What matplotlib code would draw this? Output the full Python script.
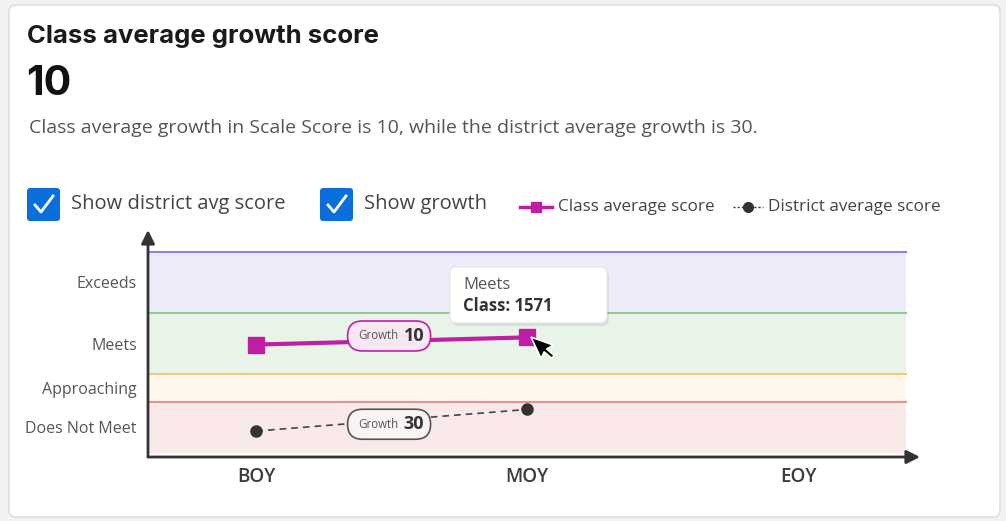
import numpy as np
import matplotlib.pyplot as plt
from matplotlib.patches import FancyBboxPatch, Rectangle, Polygon
from matplotlib.lines import Line2D
from matplotlib.transforms import ScaledTranslation

plt.rcParams['font.family'] = ['Open Sans', 'DejaVu Sans']

# datos
periods = ['BOY', 'MOY', 'EOY']
class_scores = [1561, 1571]
district_scores = [1441, 1471]
class_growth = 10
district_growth = 30
band_names = ['Does Not Meet', 'Approaching', 'Meets', 'Exceeds']
band_edges = [1410, 1482, 1520, 1605, 1690]
band_fill = ['#f9e9e9', '#fff7ec', '#e9f4e9', '#eeecfb']
band_line = ['#e89090', '#f5c97b', '#8fcd8f', '#8c83f0']
tooltip_level = 'Meets'

W, H = 1006, 521
fig = plt.figure(figsize=(W / 100, H / 100), dpi=100, facecolor='#f2f2f2')
inch = fig.dpi_scale_trans


def X(px):
    return px / 100


def Y(py):
    return (H - py) / 100


# tarjeta
fig.patches.append(FancyBboxPatch((X(9), Y(517)), X(991), (512) / 100,
                                  boxstyle='round,pad=0,rounding_size=0.07',
                                  transform=inch, facecolor='white', edgecolor='#dadada',
                                  lw=1, zorder=-5))

# textos de cabecera
fig.text(X(27), Y(37), 'Class average growth score', transform=inch, fontsize=18.5,
         fontweight='bold', family=['Inter', 'DejaVu Sans'], color='#1a1a1a', va='center')
fig.text(X(26), Y(84), str(class_growth), transform=inch, fontsize=29.5,
         fontweight='bold', family=['Inter', 'DejaVu Sans'], color='#111111', va='center')
fig.text(X(29), Y(128), 'Class average growth in Scale Score is %d, while the district average growth is %d.'
         % (class_growth, district_growth), transform=inch, fontsize=14, color='#555555', va='center')

# casillas
for bx, label in [(27, 'Show district avg score'), (320, 'Show growth')]:
    fig.patches.append(FancyBboxPatch((X(bx), Y(221)), 0.33, 0.33,
                                      boxstyle='round,pad=0,rounding_size=0.03',
                                      transform=inch, facecolor='#0a6fdc', edgecolor='none'))
    fig.lines.append(Line2D([X(bx + 8), X(bx + 14), X(bx + 26)], [Y(205), Y(212), Y(196)],
                            transform=inch, color='white', lw=2))
    fig.text(X(bx + 44), Y(204), label, transform=inch, fontsize=14.5, color='#444444', va='center')

# leyenda
fig.lines.append(Line2D([X(520), X(552)], [Y(207), Y(207)], transform=inch, color='#c01fa5', lw=2.5))
fig.lines.append(Line2D([X(536)], [Y(207)], transform=inch, color='#c01fa5', marker='s', markersize=7))
fig.text(X(558), Y(207), 'Class average score', transform=inch, fontsize=12.3, color='#444444', va='center')
fig.lines.append(Line2D([X(733), X(763)], [Y(207), Y(207)], transform=inch, color='#333333', lw=1,
                        ls=(0, (1.5, 1.5))))
fig.lines.append(Line2D([X(748)], [Y(207)], transform=inch, color='#333333', marker='o', markersize=7))
fig.text(X(768), Y(207), 'District average score', transform=inch, fontsize=12.3, color='#444444', va='center')

# grafica
ax = fig.add_axes([148 / W, 1 - 457 / H, (920 - 148) / W, (457 - 230) / H])
ax.set_facecolor('none')
ax.set_xlim(-0.4, 2.45)
ax.set_ylim(1405, 1720)
for sp in ax.spines.values():
    sp.set_visible(False)

for i in range(len(band_names)):
    ax.fill_between([-0.4, 2.4], band_edges[i], band_edges[i + 1], color=band_fill[i], lw=0, zorder=1)
    ax.plot([-0.4, 2.4], [band_edges[i + 1]] * 2, color=band_line[i], lw=1.5, zorder=2)

centers = [(band_edges[i] + band_edges[i + 1]) / 2 for i in range(len(band_names))]
ax.set_yticks(centers)
ax.set_yticklabels(band_names, fontsize=11.5, color='#555555')
ax.set_xticks(range(len(periods)))
ax.set_xticklabels(periods, fontsize=13.5, fontweight='semibold', color='#3c3c3c')
ax.tick_params(length=0, pad=7)
ax.tick_params(axis='y', pad=8)

arrow = dict(arrowstyle='-|>', color='#333333', lw=2, mutation_scale=20, shrinkA=0, shrinkB=0)
ax.annotate('', xy=(1, 0), xytext=(0, 0), xycoords='axes fraction', arrowprops=arrow, zorder=5)
ax.annotate('', xy=(0, 1), xytext=(0, 0), xycoords='axes fraction', arrowprops=arrow, zorder=5)

xs = np.arange(len(class_scores))
ax.plot(xs, class_scores, color='#c01fa5', lw=3, marker='s', markersize=11, zorder=4)
ax.plot(xs, district_scores, color='#444444', lw=1.2, ls=(0, (4, 3)), marker='o', markersize=8,
        markerfacecolor='#333333', markeredgecolor='#333333', zorder=4)


def pill(cx, cy, dy, value, edge, face):
    tr = inch + ScaledTranslation(cx, cy, ax.transData)
    ax.add_patch(FancyBboxPatch((-0.415, dy - 0.15), 0.83, 0.30,
                                boxstyle='round,pad=0,rounding_size=0.15', transform=tr,
                                facecolor=face, edgecolor=edge, lw=1.2, zorder=6))
    ax.text(-0.11, dy, 'Growth', transform=tr, fontsize=8.3, color='#555555', ha='center',
            va='center', zorder=7)
    ax.text(0.25, dy, str(value), transform=tr, fontsize=13, fontweight='bold', color='#333333',
            ha='center', va='center', zorder=7)


pill(0.49, np.mean(class_scores), 0.05, class_growth, '#c01fa5', '#f7e6f3')
pill(0.49, np.mean(district_scores), -0.04, district_growth, '#555555', '#f8f4f4')

# tooltip
fig.patches.append(FancyBboxPatch((X(452), Y(326)), 1.57, 0.56,
                                  boxstyle='round,pad=0,rounding_size=0.07', transform=inch,
                                  facecolor='#000000', alpha=0.08, edgecolor='none', zorder=8))
fig.patches.append(FancyBboxPatch((X(450), Y(323)), 1.57, 0.56,
                                  boxstyle='round,pad=0,rounding_size=0.07', transform=inch,
                                  facecolor='white', edgecolor='#e6e6e6', lw=0.8, zorder=9))
fig.text(X(463), Y(285), tooltip_level, transform=inch, fontsize=12, color='#555555', va='center', zorder=10)
fig.text(X(463), Y(306), 'Class: %d' % class_scores[1], transform=inch, fontsize=12, fontweight='bold',
         color='#333333', va='center', zorder=10)

# cursor
pts = np.array([(0, 0), (0, 17), (4, 13.5), (7, 20), (9.5, 19), (6.5, 12.5), (12, 12)]) * 1.4
ang = np.deg2rad(-25)
rot = np.array([[np.cos(ang), -np.sin(ang)], [np.sin(ang), np.cos(ang)]])
pts = pts @ rot.T
cur = [(X(531 + px), Y(337 + py)) for px, py in pts]
fig.patches.append(Polygon(cur, closed=True, transform=inch, facecolor='black', edgecolor='white',
                           lw=1.2, zorder=11))

fig.savefig('out.png', dpi=100, facecolor=fig.get_facecolor())
